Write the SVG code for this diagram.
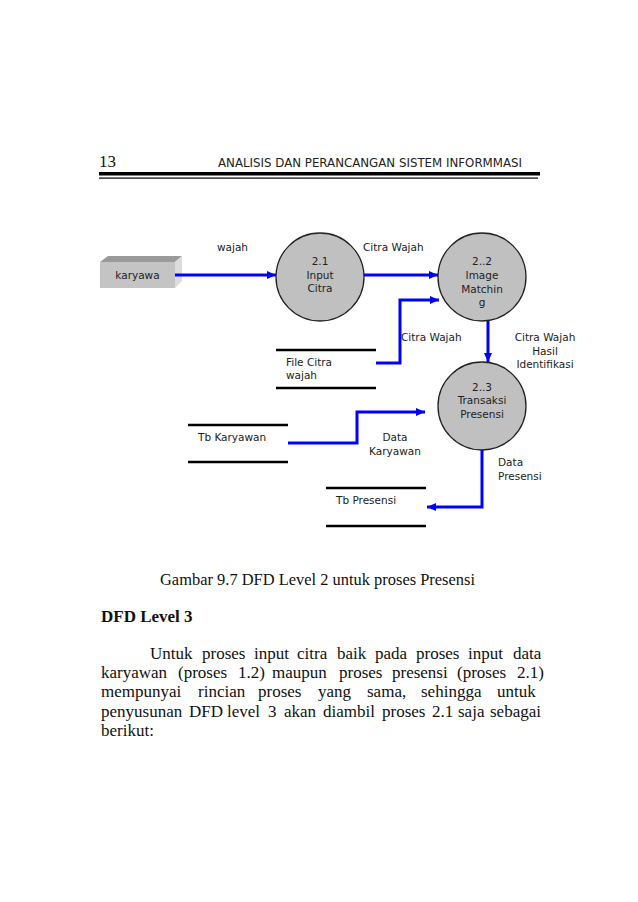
<svg xmlns="http://www.w3.org/2000/svg" width="638" height="902" viewBox="0 0 638 902">
<style>
.d{font-family:"DejaVu Sans","Liberation Sans",sans-serif;font-size:10.5px;fill:#222}
.m{text-anchor:middle}
.proc{fill:#c0c0c0;stroke:#222;stroke-width:1.3}
.store{stroke:#000;stroke-width:2.5}
.flow{fill:none;stroke:#0000ff;stroke-width:3;marker-end:url(#ah)}
.s{font-family:"Liberation Serif",serif;font-size:17px;fill:#111}
</style>
<defs>
<marker id="ah" markerUnits="userSpaceOnUse" markerWidth="10" markerHeight="10" refX="9" refY="5" orient="auto">
<path d="M0,1 L9,5 L0,9 Z" fill="#0000ff"/>
</marker>
</defs>
<rect width="638" height="902" fill="#fff"/>
<g id="header">
<text x="99" y="167" class="s" font-size="17">13</text>
<text x="218" y="167" font-family="DejaVu Sans,sans-serif" font-size="12" fill="#222" textLength="304" lengthAdjust="spacingAndGlyphs">ANALISIS DAN PERANCANGAN SISTEM INFORMMASI</text>
<rect x="99" y="172" width="441" height="3.5" fill="#000"/>
<rect x="99" y="177.5" width="439" height="1.2" fill="#000"/>
</g>
<g id="karyawa">
<polygon points="100,262 108,256 182,256 175,262" fill="#9a9a9a"/>
<polygon points="175,262 182,256 182,281 175,288" fill="#dcdcdc"/>
<rect x="100" y="262" width="75" height="26" fill="#c4c4c4"/>
<text x="137.5" y="279" class="d m">karyawa</text>
</g>
<g id="p21">
<circle cx="320" cy="277" r="44" class="proc"/>
<text class="d m" x="320" y="265">2.1</text>
<text class="d m" x="320" y="279">Input</text>
<text class="d m" x="320" y="292">Citra</text>
</g>
<g id="p22">
<circle cx="482" cy="277" r="44" class="proc"/>
<text class="d m" x="482" y="265">2..2</text>
<text class="d m" x="482" y="279">Image</text>
<text class="d m" x="482" y="293">Matchin</text>
<text class="d m" x="482" y="306">g</text>
</g>
<g id="p23">
<circle cx="482" cy="406" r="44" class="proc"/>
<text class="d m" x="482" y="391">2..3</text>
<text class="d m" x="482" y="404">Transaksi</text>
<text class="d m" x="482" y="418">Presensi</text>
</g>
<g id="fileCitra">
<line x1="276" y1="350" x2="376" y2="350" class="store"/>
<line x1="276" y1="388" x2="376" y2="388" class="store"/>
<text class="d" x="286" y="366">File Citra</text>
<text class="d" x="286" y="379">wajah</text>
</g>
<g id="tbKaryawan">
<line x1="188" y1="425" x2="288" y2="425" class="store"/>
<line x1="188" y1="462" x2="288" y2="462" class="store"/>
<text class="d" x="198" y="441">Tb Karyawan</text>
</g>
<g id="tbPresensi">
<line x1="326" y1="488" x2="426" y2="488" class="store"/>
<line x1="326" y1="526" x2="426" y2="526" class="store"/>
<text class="d" x="336" y="504">Tb Presensi</text>
</g>
<g id="connectors">
<path class="flow" d="M175,275 H276"/>
<path class="flow" d="M364,275 H438"/>
<path class="flow" d="M376,363 H400 V300 H439"/>
<path class="flow" d="M488,321 V362"/>
<path class="flow" d="M288,443 H357 V412 H425"/>
<path class="flow" d="M482,450 V507 H427"/>
<text class="d" x="217" y="251">wajah</text>
<text class="d" x="363" y="251">Citra Wajah</text>
<text class="d" x="401" y="341">Citra Wajah</text>
<text class="d m" x="545" y="341">Citra Wajah</text>
<text class="d m" x="545" y="355">Hasil</text>
<text class="d m" x="545" y="368">Identifikasi</text>
<text class="d m" x="395" y="441">Data</text>
<text class="d m" x="395" y="455">Karyawan</text>
<text class="d" x="498" y="466">Data</text>
<text class="d" x="498" y="480">Presensi</text>
</g>
<g id="body">
<text class="s" x="160" y="585" textLength="315" lengthAdjust="spacingAndGlyphs">Gambar 9.7 DFD Level 2 untuk proses Presensi</text>
<text class="s" x="101" y="622" font-weight="bold" font-size="16.5">DFD Level 3</text>
<text class="s" y="659"><tspan x="150">Untuk</tspan><tspan x="202">proses</tspan><tspan x="254">input</tspan><tspan x="297">citra</tspan><tspan x="337">baik</tspan><tspan x="375">pada</tspan><tspan x="416">proses</tspan><tspan x="468">input</tspan><tspan x="513">data</tspan></text>
<text class="s" y="678"><tspan x="101">karyawan</tspan><tspan x="178">(proses</tspan><tspan x="238">1.2)</tspan><tspan x="272">maupun</tspan><tspan x="339">proses</tspan><tspan x="392">presensi</tspan><tspan x="457">(proses</tspan><tspan x="517">2.1)</tspan></text>
<text class="s" y="697"><tspan x="101">mempunyai</tspan><tspan x="198">rincian</tspan><tspan x="258">proses</tspan><tspan x="318">yang</tspan><tspan x="367">sama,</tspan><tspan x="421">sehingga</tspan><tspan x="497">untuk</tspan></text>
<text class="s" y="717"><tspan x="101">penyusunan</tspan><tspan x="189">DFD</tspan><tspan x="227">level</tspan><tspan x="268">3</tspan><tspan x="284">akan</tspan><tspan x="323">diambil</tspan><tspan x="382">proses</tspan><tspan x="432">2.1</tspan><tspan x="458">saja</tspan><tspan x="490">sebagai</tspan></text>
<text class="s" x="101" y="736">berikut:</text>
</g>
</svg>
